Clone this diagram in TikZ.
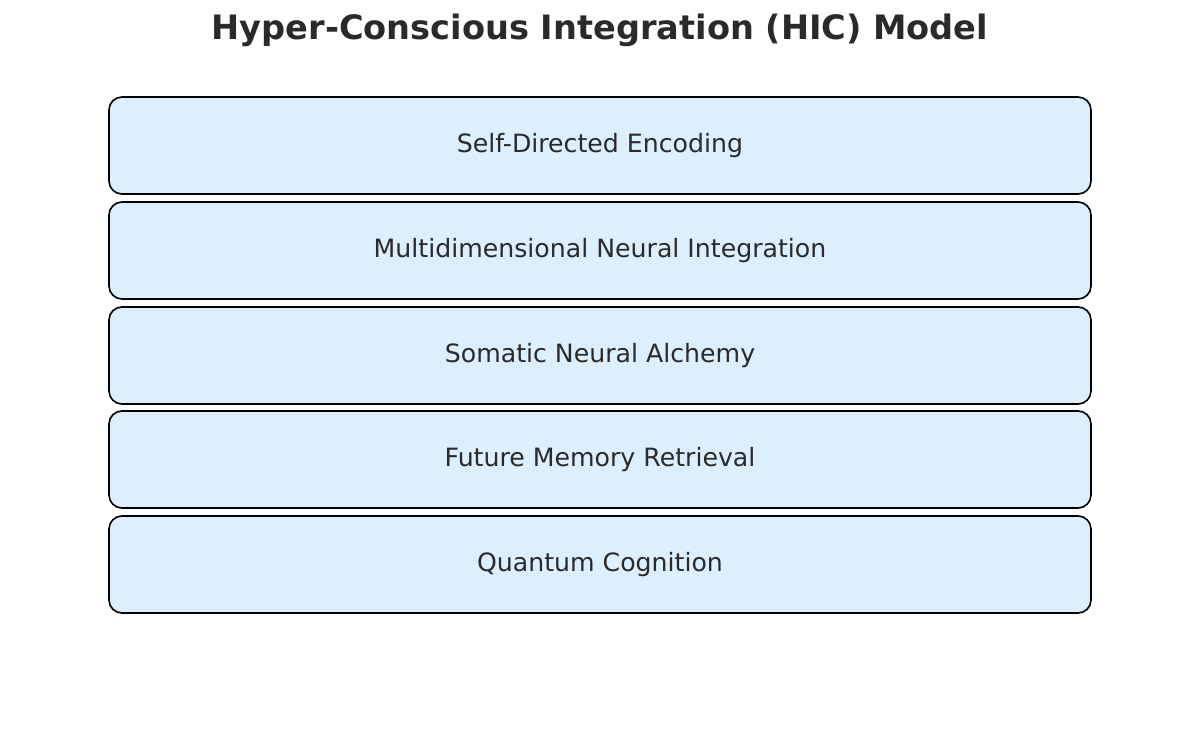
\documentclass[tikz,border=0pt]{standalone}
\usepackage{fontspec}
\setmainfont{DejaVu Sans}
\definecolor{boxfill}{HTML}{DDEEFD}
\definecolor{txt}{HTML}{2A2A2A}
\begin{document}
\begin{tikzpicture}[x=1pt,y=-1pt,
  layer/.style={draw=black,line width=1.6pt,fill=boxfill,rounded corners=13pt,minimum width=982pt,minimum height=97pt,inner sep=0pt,font=\fontsize{25.2}{30}\selectfont,text=txt}]
\useasboundingbox (0,0) rectangle (1200,754);
\node[font=\bfseries\fontsize{33.6}{40}\selectfont,text=txt] (title) at (600,30) {Hyper-Conscious Integration (HIC) Model};
\node[layer] (l1) at (600,145.5) {Self-Directed Encoding};
\node[layer] (l2) at (600,250.5) {Multidimensional Neural Integration};
\node[layer] (l3) at (600,355.5) {Somatic Neural Alchemy};
\node[layer] (l4) at (600,459.5) {Future Memory Retrieval};
\node[layer] (l5) at (600,564.5) {Quantum Cognition};
\end{tikzpicture}
\end{document}
